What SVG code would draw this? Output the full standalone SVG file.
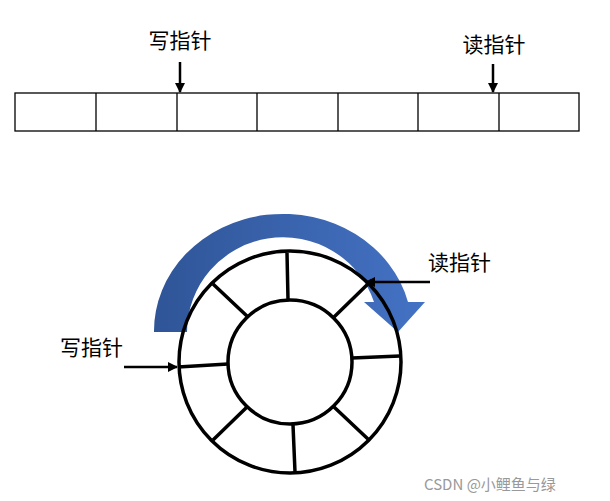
<svg xmlns="http://www.w3.org/2000/svg" width="610" height="501" viewBox="0 0 610 501">
<style>
.t{font-family:"Noto Sans CJK SC","Liberation Sans",sans-serif;font-size:21px;fill:#000}
.b{fill:none;stroke:#000;stroke-width:1.3}
.k{stroke:#000;stroke-width:3.5;fill:none}
.p{stroke:#000;stroke-width:2.5;fill:none}
</style>
<defs>
<marker id="ah" viewBox="0 0 10 10" refX="9" refY="5" markerWidth="4" markerHeight="4" orient="auto"><path d="M0,0L10,5L0,10z" fill="#000"/></marker>
<linearGradient id="g" x1="0" x2="1" y1="0" y2="0"><stop offset="0" stop-color="#2f5597"/><stop offset="1" stop-color="#4472c4"/></linearGradient>
</defs>
<rect width="610" height="501" fill="#fff"/>
<g id="array">
<rect class="b" x="15" y="93" width="564" height="38"/>
<path class="b" d="M96,93V131M177,93V131M257,93V131M338,93V131M418,93V131M499,93V131"/>
</g>
<g id="blue-arrow"><path d="M154,332 A129,117 0 0 1 408,302 L425,302 L398,332 L364,302 L374,302 A96,95 0 0 0 187,332 Z" fill="url(#g)"/></g>
<g id="ring">
<circle class="k" cx="290" cy="362" r="111" fill="#fff"/>
<circle class="k" cx="290" cy="362" r="62"/>
<path class="k" d="M287,253L288,299M333,318L372,280M352,358L400,356M334,407L369,440M293,425L295,472M247,407L213,440M228,364L178,367M248,317L213,284"/>
</g>
<g id="connectors">
<line class="p" x1="180" y1="62" x2="180" y2="92" marker-end="url(#ah)"/>
<line class="p" x1="493" y1="64" x2="493" y2="92" marker-end="url(#ah)"/>
<line class="p" x1="430" y1="282" x2="366" y2="282" marker-end="url(#ah)"/>
<line class="p" x1="124" y1="367" x2="177" y2="367" marker-end="url(#ah)"/>
</g>
<g id="labels">
<text class="t" x="180" y="48" text-anchor="middle">写指针</text>
<text class="t" x="494" y="52" text-anchor="middle">读指针</text>
<text class="t" x="428" y="270">读指针</text>
<text class="t" x="60" y="355">写指针</text>
<text x="424" y="490" font-family="Noto Sans CJK SC,Liberation Sans,sans-serif" font-size="15" fill="#999">CSDN @小鲤鱼与绿</text>
</g>
</svg>
